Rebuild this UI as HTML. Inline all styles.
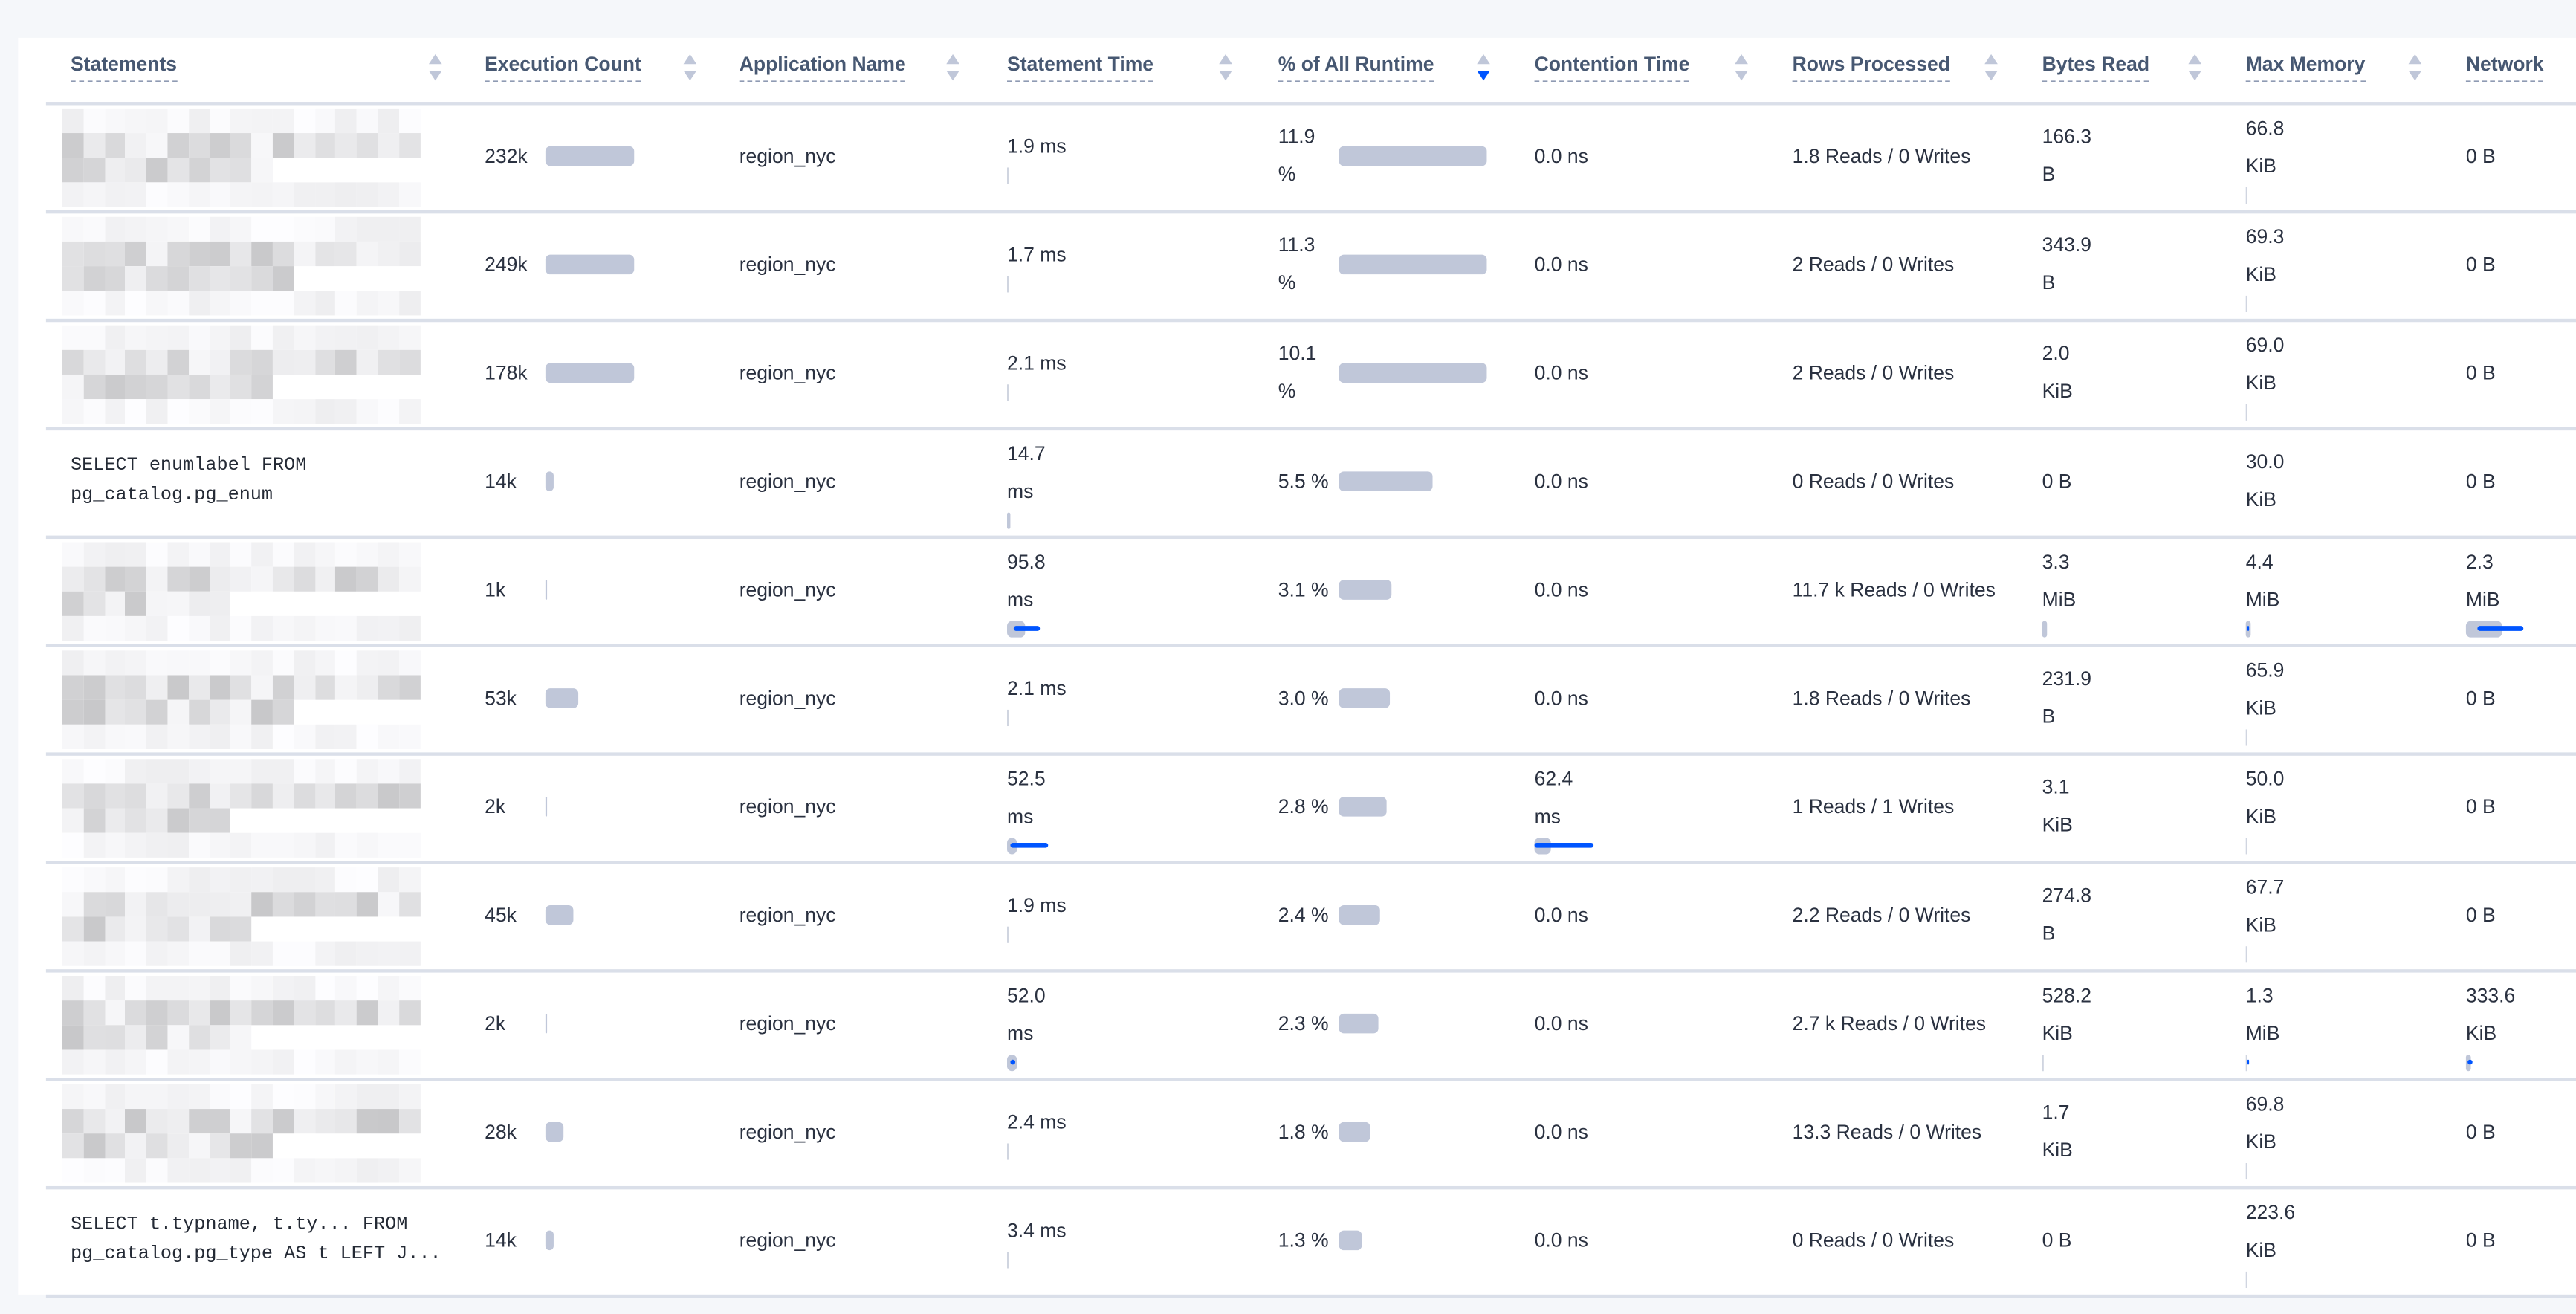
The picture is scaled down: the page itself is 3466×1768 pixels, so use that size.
<!DOCTYPE html>
<html><head><meta charset="utf-8">
<style>
html,body{margin:0;padding:0;background:#f5f7fa;}
#wrap{position:absolute;left:0;top:0;width:1568px;height:800px;transform:scale(2.21046);transform-origin:0 0;background:#f5f7fa;font-family:"Liberation Sans",sans-serif;overflow:hidden;}
#panel{position:absolute;left:11px;top:23px;width:1560px;height:765px;background:#fff;}
.hdr{position:absolute;top:32px;font-size:12px;font-weight:bold;color:#475872;border-bottom:1.5px dashed #8f9bb3;padding-bottom:3px;white-space:nowrap;}
.arr{position:absolute;top:33px;width:8px;height:16px;}
.hline{position:absolute;left:28px;width:1540px;height:1.5px;background:#dadfe9;}
.cell{position:absolute;height:66px;display:flex;flex-direction:column;justify-content:center;font-size:12px;color:#2a3140;line-height:23px;}
.row{display:flex;align-items:center;}
.pill{background:#c0c7d9;border-radius:3px;height:12px;}
.mono{font-family:"Liberation Mono",monospace;font-size:11.4px;line-height:18px;color:#242a35;white-space:pre;}
.mini{position:relative;height:10px;margin-top:1px;}
.mg{position:absolute;left:0;top:0;height:10px;background:#c0c7d9;border-radius:3px;}
.mb{position:absolute;top:3.5px;height:3px;background:#0055ff;border-radius:1.5px;}
.blur{position:absolute;}
.px{position:absolute;width:12.8px;height:15px;}
</style></head><body>
<div id="wrap">
<div id="panel"></div>
</div>
<script>
const rowsText=["blur","blur","blur","SELECT enumlabel FROM\npg_catalog.pg_enum","blur","blur","blur","blur","blur","blur","SELECT t.typname, t.ty... FROM\npg_catalog.pg_type AS t LEFT J..."];
const execCountK=[232,249,178,14,1,53,2,45,2,28,14];
const appNames=["region_nyc","region_nyc","region_nyc","region_nyc","region_nyc","region_nyc","region_nyc","region_nyc","region_nyc","region_nyc","region_nyc"];
const stmtTimeMs=[1.9,1.7,2.1,14.7,95.8,2.1,52.5,1.9,52.0,2.4,3.4];
const stmtTimeDev=[0,0,0,3,145,0,210,0,25,0,2];
const runtimePct=[11.9,11.3,10.1,5.5,3.1,3.0,2.8,2.4,2.3,1.8,1.3];
const contentionMs=[0,0,0,0,0,0,62.4,0,0,0,0];
const contentionDev=[0,0,0,0,0,0,225,0,0,0,0];
const rowsProcessed=["1.8 Reads / 0 Writes","2 Reads / 0 Writes","2 Reads / 0 Writes","0 Reads / 0 Writes","11.7 k Reads / 0 Writes","1.8 Reads / 0 Writes","1 Reads / 1 Writes","2.2 Reads / 0 Writes","2.7 k Reads / 0 Writes","13.3 Reads / 0 Writes","0 Reads / 0 Writes"];
const bytesRead=["166.3 B","343.9 B","2.0 KiB","0 B","3.3 MiB","231.9 B","3.1 KiB","274.8 B","528.2 KiB","1.7 KiB","0 B"];
const maxMemory=["66.8 KiB","69.3 KiB","69.0 KiB","30.0 KiB","4.4 MiB","65.9 KiB","50.0 KiB","67.7 KiB","1.3 MiB","69.8 KiB","223.6 KiB"];
const network=["0 B","0 B","0 B","0 B","2.3 MiB","0 B","0 B","0 B","333.6 KiB","0 B","0 B"];
const networkDevMiB=[0,0,0,0,3.0,0,0,0,0.35,0,0];

const W=document.getElementById('wrap');
const ROW0=62, RH=66;
const cols=[["Statements",43,265],["Execution Count",295,420],["Application Name",450,580],["Statement Time",613,746],["% of All Runtime",778,903],["Contention Time",934,1060],["Rows Processed",1091,1212],["Bytes Read",1243,1336],["Max Memory",1367,1470],["Network",1501,null]];
function mk(tag,cls,parent){const e=document.createElement(tag);if(cls)e.className=cls;(parent||W).appendChild(e);return e;}
cols.forEach((c,i)=>{
  const h=mk('div','hdr');h.style.left=c[1]+'px';h.textContent=c[0];
  
  
  if(c[2]!==null){
    const a=mk('div','arr');a.style.left=(c[2]-4)+'px';
    const blueDown=(i===4);
    a.innerHTML='<svg width="8" height="16"><polygon points="4,0 8,6 0,6" fill="#c0c7d9"/><polygon points="0,10 8,10 4,16" fill="'+(blueDown?'#0055ff':'#c0c7d9')+'"/></svg>';
    
    
  }
});
function sizeToBytes(s){const p=s.split(' ');const v=parseFloat(p[0]);return v*({B:1,KiB:1024,MiB:1048576}[p[1]]);}
function line(y){const l=mk('div','hline');l.style.top=y+'px';}
line(ROW0);
function cell(x,r,w,name){const c=mk('div','cell');c.style.left=x+'px';c.style.top=(ROW0+r*RH)+'px';if(w)c.style.width=w+'px';return c;}
function txt(c,s){const t=mk('div','',c);t.textContent=s;return t;}
function mini(c,gw,bx,bw){const m=mk('div','mini',c);const g=mk('div','mg',m);g.style.width=Math.max(1,gw)+'px';if(gw<1.5){g.style.background='#d0d5e0';g.style.borderRadius='0';}
  if(bw>0.5){const b=mk('div','mb',m);b.style.left=bx+'px';b.style.width=bw+'px';}
  }
function hash(a,b){let h=(a*374761393+b*668265263)>>>0;h=(h^(h>>>13))*1274126177>>>0;return (h^(h>>>16))>>>0;}
rowsText.forEach((st,r)=>{
  const top=ROW0+r*RH;
  if(st==="blur"){
    const b=mk('div','blur');b.style.left='38px';b.style.top=(top+4)+'px';
    
    for(let rr=0;rr<4;rr++){const n=rr===2?(8+hash(r,99)%5):17;for(let cc=0;cc<n;cc++){
      const p=mk('div','px',b);p.style.left=(cc*12.8)+'px';p.style.top=(rr*15)+'px';
      const base=(rr===0||rr===3)?238:200;const spread=(rr===0||rr===3)?16:48;
      const v=base+(hash(r*31+rr,cc)%spread);p.style.background='rgb('+v+','+v+','+(v+2)+')';}}
  }else{
    const c=cell(43,r,230,'statement-text');const t=mk('div','mono',c);t.textContent=st;
  }
  const ec=cell(295,r,null,'execution-count');const er=mk('div','row',ec);
  const et=mk('span','',er);et.textContent=execCountK[r]+'k';et.style.width='37px';et.style.display='inline-block';
  const ep=mk('div','pill',er);ep.style.width=Math.max(1,Math.min(54,execCountK[r]/140*54))+'px';
  const ac=cell(450,r,null,'application-name');txt(ac,appNames[r]);
  const sc=cell(613,r,42,'statement-time');txt(sc,stmtTimeMs[r].toFixed(1)+' ms');
  mini(sc,stmtTimeMs[r]*0.11,stmtTimeMs[r]*0.11*0.35,stmtTimeDev[r]*0.11);
  const rc=cell(778,r,null,'runtime-percent');const rr2=mk('div','row',rc);
  const rt=mk('div','',rr2);rt.textContent=runtimePct[r].toFixed(1)+' %';rt.style.width='32px';rt.style.marginRight='5px';
  const rp=mk('div','pill',rr2);rp.style.width=Math.min(90,runtimePct[r]*10.4)+'px';
  const cc=cell(934,r,42,'contention-time');
  if(contentionMs[r]>0){txt(cc,contentionMs[r].toFixed(1)+' ms');mini(cc,contentionMs[r]*0.16,0,contentionDev[r]*0.16);}
  else txt(cc,'0.0 ns');
  const pc=cell(1091,r,null,'rows-processed');txt(pc,rowsProcessed[r]);
  const bc=cell(1243,r,38,'bytes-read');txt(bc,bytesRead[r]);
  const bb=sizeToBytes(bytesRead[r]);if(bb>=1048576)mini(bc,bb/1048576*0.9,0,0);else if(bb>=300000)mini(bc,1,0,0);
  const mc=cell(1367,r,38,'max-memory');txt(mc,maxMemory[r]);
  const mm=sizeToBytes(maxMemory[r]);if(mm>=1048576)mini(mc,mm/1048576*0.7,1,1);else if(mm>=40000)mini(mc,1,0,0);
  const nc=cell(1501,r,38,'network-bytes');txt(nc,network[r]);
  const nb=sizeToBytes(network[r])/1048576;if(nb>0)mini(nc,nb*9.5,nb*9.5*0.3,networkDevMiB[r]*9.5);
  line(top+RH);
});
</script>
</body></html>
